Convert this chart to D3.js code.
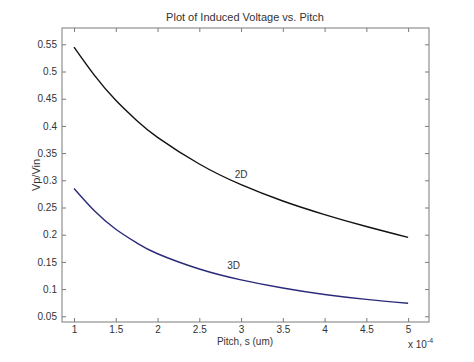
<!DOCTYPE html>
<html>
<head>
<meta charset="utf-8">
<script src="https://cdn.jsdelivr.net/npm/d3@7"></script>
<style>
  body { margin: 0; background: #fff; }
  svg { display: block; font-family: "Liberation Sans", Arial, sans-serif; }
</style>
</head>
<body>
<svg id="chart" width="474" height="362"></svg>
<script>
// Data (x in units of 1e-4)
const pitch = [1, 1.25, 1.5, 1.75, 2, 2.5, 3, 3.5, 4, 4.5, 5];
const vp2D  = [0.545, 0.492, 0.447, 0.41, 0.379, 0.330, 0.292, 0.262, 0.237, 0.215, 0.195];
const vp3D  = [0.285, 0.243, 0.210, 0.185, 0.165, 0.137, 0.117, 0.102, 0.090, 0.081, 0.074];
const xTicks = [1, 1.5, 2, 2.5, 3, 3.5, 4, 4.5, 5];
const yTicks = [0.05, 0.1, 0.15, 0.2, 0.25, 0.3, 0.35, 0.4, 0.45, 0.5, 0.55];
const labels = [{text: "2D", x: 3.0, y: 0.31}, {text: "3D", x: 2.91, y: 0.142}];

const svg = d3.select("#chart");
const L = 62, R = 429, T = 28, B = 322;
const x = d3.scaleLinear().domain([0.856, 5.25]).range([L, R]);
const y = d3.scaleLinear().domain([0.0395, 0.58]).range([B, T]);
const axisColor = "#7a7a7a";
const textColor = "#333";

// Box
svg.append("rect").attr("x", L).attr("y", T).attr("width", R - L).attr("height", B - T)
  .attr("fill", "none").attr("stroke", axisColor).attr("stroke-width", 1);

function styleAxis(g) {
  g.select(".domain").remove();
  g.selectAll(".tick line").attr("stroke", axisColor);
  g.selectAll(".tick text").attr("fill", textColor).attr("font-size", 10);
}
// Bottom / left axes with inward ticks
svg.append("g").attr("transform", `translate(0,${B})`)
  .call(d3.axisBottom(x).tickValues(xTicks).tickSizeInner(-4).tickSizeOuter(0).tickPadding(4).tickFormat(d3.format("")))
  .call(styleAxis);
svg.append("g").attr("transform", `translate(${L},0)`)
  .call(d3.axisLeft(y).tickValues(yTicks).tickSizeInner(-4).tickSizeOuter(0).tickPadding(5).tickFormat(d3.format("")))
  .call(styleAxis);
// Top / right ticks
svg.append("g").attr("transform", `translate(0,${T})`)
  .call(d3.axisTop(x).tickValues(xTicks).tickSizeInner(-4).tickSizeOuter(0).tickFormat(""))
  .call(styleAxis);
svg.append("g").attr("transform", `translate(${R},0)`)
  .call(d3.axisRight(y).tickValues(yTicks).tickSizeInner(-4).tickSizeOuter(0).tickFormat(""))
  .call(styleAxis);

// Lines
const line = d3.line().x(d => x(d[0])).y(d => y(d[1])).curve(d3.curveNatural);
svg.append("path").datum(pitch.map((p, i) => [p, vp2D[i]]))
  .attr("d", line).attr("fill", "none").attr("stroke", "#111").attr("stroke-width", 1.4);
svg.append("path").datum(pitch.map((p, i) => [p, vp3D[i]]))
  .attr("d", line).attr("fill", "none").attr("stroke", "#2a2a7a").attr("stroke-width", 1.4);

// Curve labels
svg.selectAll("text.lbl").data(labels).enter().append("text")
  .attr("class", "lbl").attr("x", d => x(d.x)).attr("y", d => y(d.y))
  .attr("text-anchor", "middle").attr("dominant-baseline", "middle")
  .attr("font-size", 10).attr("fill", textColor).text(d => d.text);

// Title and axis labels
svg.append("text").attr("x", 245).attr("y", 21).attr("text-anchor", "middle")
  .attr("font-size", 11).attr("fill", textColor).text("Plot of Induced Voltage vs. Pitch");
svg.append("text").attr("x", 245).attr("y", 345).attr("text-anchor", "middle")
  .attr("font-size", 10).attr("fill", textColor).text("Pitch, s  (um)");
svg.append("text").attr("transform", `translate(40,${(T + B) / 2}) rotate(-90)`)
  .attr("text-anchor", "middle").attr("font-size", 11).attr("fill", textColor).text("Vp/Vin");
// Exponent
const ex = svg.append("text").attr("x", 408).attr("y", 348).attr("font-size", 10).attr("fill", textColor);
ex.append("tspan").text("x 10");
ex.append("tspan").attr("font-size", 7).attr("dy", -5).text("-4");
</script>
</body>
</html>
